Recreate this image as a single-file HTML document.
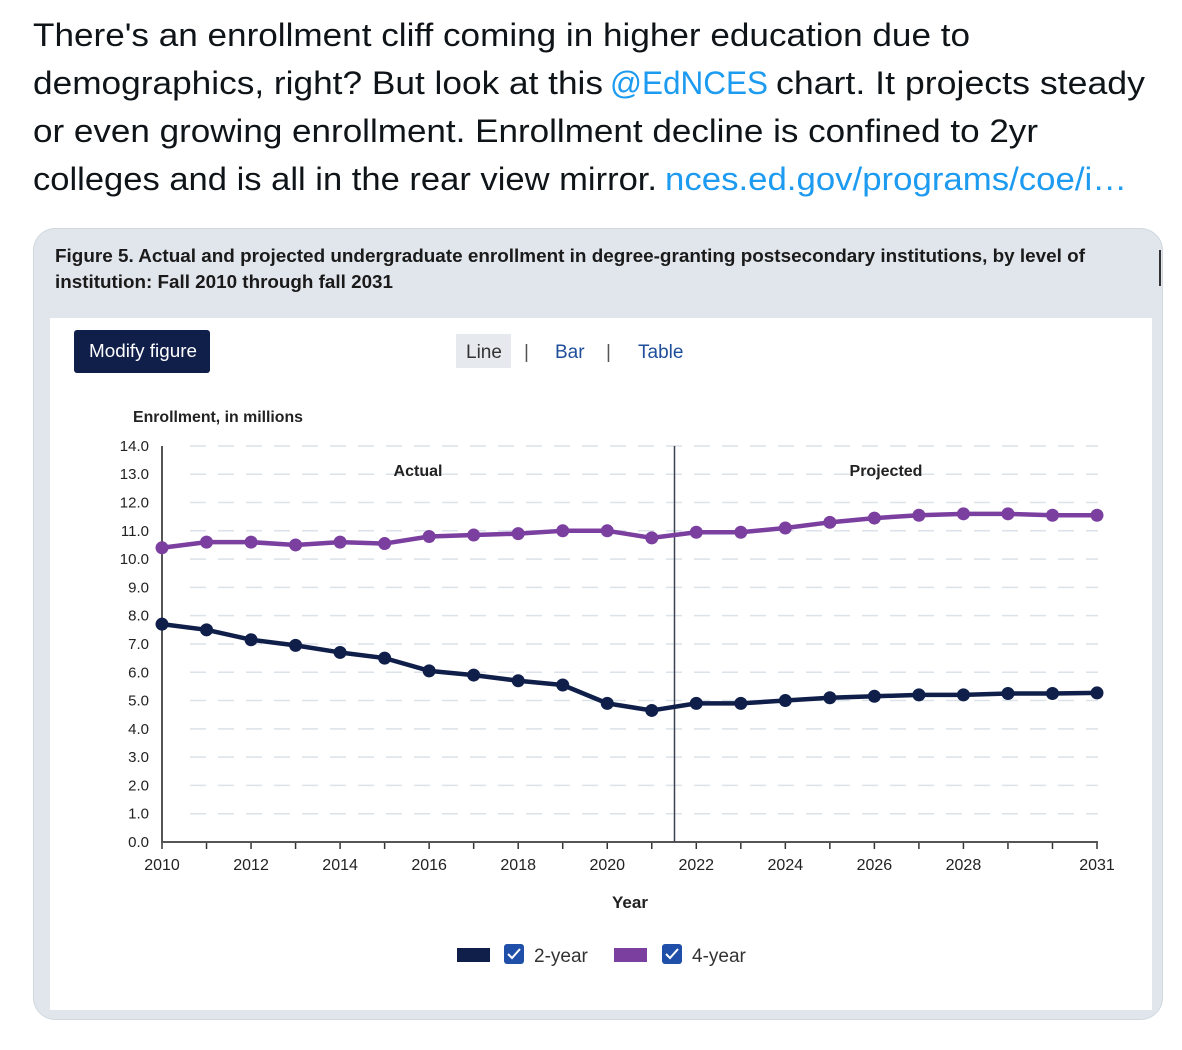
<!DOCTYPE html>
<html><head><meta charset="utf-8"><style>
html,body{margin:0;padding:0;background:#fff;}
svg{display:block;font-family:"Liberation Sans",Arial,sans-serif;}
</style></head><body>
<svg width="1182" height="1050" viewBox="0 0 1182 1050" xmlns="http://www.w3.org/2000/svg">
<rect width="1182" height="1050" fill="#fff"/>
<g font-size="32" fill="#0f1419">
<text x="33" y="46" textLength="937" lengthAdjust="spacingAndGlyphs">There's an enrollment cliff coming in higher education due to</text>
<text x="33" y="94" textLength="570" lengthAdjust="spacingAndGlyphs">demographics, right? But look at this</text>
<text x="610" y="94" fill="#1d9bf0" textLength="158" lengthAdjust="spacingAndGlyphs">@EdNCES</text>
<text x="776" y="94" textLength="369" lengthAdjust="spacingAndGlyphs">chart. It projects steady</text>
<text x="33" y="142" textLength="1005" lengthAdjust="spacingAndGlyphs">or even growing enrollment. Enrollment decline is confined to 2yr</text>
<text x="33" y="190" textLength="624" lengthAdjust="spacingAndGlyphs">colleges and is all in the rear view mirror.</text>
<text x="665" y="190" fill="#1d9bf0" textLength="462" lengthAdjust="spacingAndGlyphs">nces.ed.gov/programs/coe/i…</text>
</g>
<rect x="33.5" y="228.5" width="1129" height="791" rx="22" fill="#e1e6ec" stroke="#cfd9de"/>
<rect x="50" y="318" width="1102" height="692" fill="#fff"/>
<g font-size="18" font-weight="bold" fill="#1a1a1a">
<text x="55" y="262" textLength="1030" lengthAdjust="spacingAndGlyphs">Figure 5. Actual and projected undergraduate enrollment in degree-granting postsecondary institutions, by level of</text>
<text x="55" y="288" textLength="338" lengthAdjust="spacingAndGlyphs">institution: Fall 2010 through fall 2031</text>
</g>
<rect x="1159" y="250" width="2" height="36" fill="#333"/>
<rect x="74" y="330" width="136" height="43" rx="3" fill="#0f1f4a"/>
<text x="89" y="357" font-size="18" fill="#fff" textLength="108" lengthAdjust="spacingAndGlyphs">Modify figure</text>
<rect x="456" y="334" width="55" height="34" fill="#e6eaee"/>
<g font-size="19">
<text x="466" y="358" fill="#333">Line</text>
<text x="524" y="358" fill="#555">|</text>
<text x="555" y="358" fill="#1f4e9a">Bar</text>
<text x="606" y="358" fill="#555">|</text>
<text x="638" y="358" fill="#1f4e9a">Table</text>
</g>
<text x="133" y="422" font-size="16" font-weight="bold" fill="#222" textLength="170" lengthAdjust="spacingAndGlyphs">Enrollment, in millions</text>
<g id="grid" stroke="#dbe2ea" stroke-width="1.5" stroke-dasharray="16,12"></g>
<g id="ylab" font-size="15" fill="#222" text-anchor="end"></g>
<g id="xt" stroke="#333" stroke-width="1.5"></g>
<g id="xlab" font-size="16" fill="#222" text-anchor="middle"></g>
<line x1="162" y1="446" x2="162" y2="843" stroke="#555" stroke-width="2"/>
<line x1="162" y1="842" x2="1098" y2="842" stroke="#555" stroke-width="2"/>
<line x1="674.5" y1="446" x2="674.5" y2="842" stroke="#3a4150" stroke-width="1.5"/>
<text x="418" y="476" font-size="16" font-weight="bold" fill="#222" text-anchor="middle">Actual</text>
<text x="886" y="476" font-size="16" font-weight="bold" fill="#222" text-anchor="middle">Projected</text>
<text x="630" y="908" font-size="17" font-weight="bold" fill="#222" text-anchor="middle">Year</text>
<g id="s4"></g>
<g id="s2"></g>
<rect x="457" y="948" width="33" height="14" fill="#0f1f4a"/>
<rect x="504" y="944" width="20" height="20" rx="3" fill="#1f4fa8"/>
<path d="M508 954 l4 4 l8 -9" stroke="#fff" stroke-width="2" fill="none"/>
<text x="534" y="962" font-size="19" fill="#333">2-year</text>
<rect x="614" y="948" width="33" height="14" fill="#7b3fa0"/>
<rect x="662" y="944" width="20" height="20" rx="3" fill="#1f4fa8"/>
<path d="M666 954 l4 4 l8 -9" stroke="#fff" stroke-width="2" fill="none"/>
<text x="692" y="962" font-size="19" fill="#333">4-year</text>
</svg>
<script>
var NS="http://www.w3.org/2000/svg";
function el(p,t,a,txt){var e=document.createElementNS(NS,t);for(var k in a)e.setAttribute(k,a[k]);if(txt!=null)e.textContent=txt;document.getElementById(p).appendChild(e);}
function Y(v){return 842-28.29*v;}
function X(i){return 162+44.524*i;}
for(var v=1;v<=14;v++){el('grid','line',{x1:190,x2:1098,y1:Y(v),y2:Y(v)});}
for(var v=0;v<=14;v++){el('ylab','text',{x:149,y:Y(v)+5},v.toFixed(1));}
for(var i=0;i<=21;i++){el('xt','line',{x1:X(i),x2:X(i),y1:842,y2:849});}
for(var i=0;i<=18;i+=2){el('xlab','text',{x:X(i),y:870},2010+i);}
el('xlab','text',{x:X(21),y:870},2031);
var d4=[10.4,10.6,10.6,10.5,10.6,10.55,10.8,10.85,10.9,11.0,11.0,10.75,10.95,10.95,11.1,11.3,11.45,11.55,11.6,11.6,11.55,11.55];
var d2=[7.7,7.5,7.15,6.95,6.7,6.5,6.05,5.9,5.7,5.55,4.9,4.65,4.9,4.9,5.0,5.1,5.15,5.2,5.2,5.25,5.25,5.27];
function series(id,d,c){var pts=d.map(function(v,i){return X(i)+','+Y(v);}).join(' ');
el(id,'polyline',{points:pts,fill:'none',stroke:c,'stroke-width':4.5,'stroke-linejoin':'round'});
d.forEach(function(v,i){el(id,'circle',{cx:X(i),cy:Y(v),r:6.5,fill:c});});}
series('s4',d4,'#7b3fa0');series('s2',d2,'#0f1f4a');
</script>
</body></html>
